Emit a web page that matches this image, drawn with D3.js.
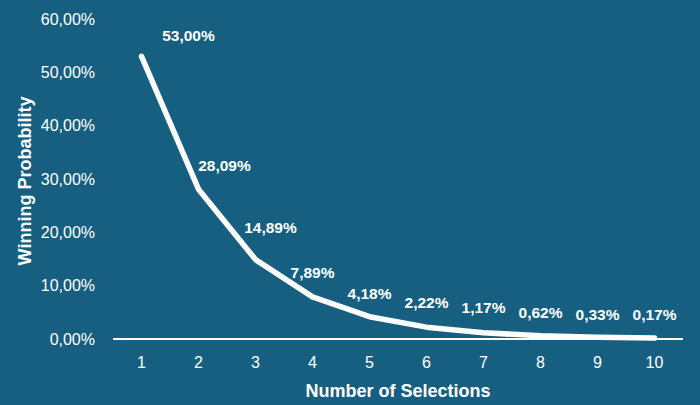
<!DOCTYPE html>
<html>
<head>
<meta charset="utf-8">
<script src="https://cdn.jsdelivr.net/npm/d3@7"></script>
<style>
  html, body { margin: 0; padding: 0; background: #175f80; }
  svg { display: block; font-family: "Liberation Sans", Arial, sans-serif; }
</style>
</head>
<body>
<div id="chart"></div>
<script>
  // données
  const selections = [1, 2, 3, 4, 5, 6, 7, 8, 9, 10];
  const probabilities = [53.00, 28.09, 14.89, 7.89, 4.18, 2.22, 1.17, 0.62, 0.33, 0.17];
  const yTicks = [0, 10, 20, 30, 40, 50, 60];

  const width = 700;
  const height = 405;
  const margin = { top: 19, right: 17, bottom: 66, left: 113 };

  const fmt = v => d3.format(".2f")(v).replace(".", ",") + "%";

  const svg = d3.select("#chart").append("svg")
    .attr("width", width)
    .attr("height", height);

  svg.append("rect")
    .attr("width", width)
    .attr("height", height)
    .attr("fill", "#175f80");

  const x = d3.scaleBand()
    .domain(selections)
    .range([margin.left, width - margin.right]);

  const y = d3.scaleLinear()
    .domain([0, 60])
    .range([height - margin.bottom, margin.top]);

  const cx = d => x(d) + x.bandwidth() / 2;

  // axe Y (labels seulement)
  svg.append("g")
    .attr("text-anchor", "end")
    .selectAll("text")
    .data(yTicks)
    .enter().append("text")
    .attr("x", 95)
    .attr("y", d => y(d))
    .attr("dy", "0.35em")
    .attr("fill", "#fff")
    .attr("font-size", 16)
    .text(d => fmt(d));

  // ligne de base
  svg.append("line")
    .attr("x1", margin.left)
    .attr("x2", width - margin.right)
    .attr("y1", y(0))
    .attr("y2", y(0))
    .attr("stroke", "#fff")
    .attr("stroke-width", 2);

  // axe X
  svg.append("g")
    .attr("text-anchor", "middle")
    .selectAll("text")
    .data(selections)
    .enter().append("text")
    .attr("x", d => cx(d))
    .attr("y", y(0) + 23)
    .attr("dy", "0.35em")
    .attr("fill", "#fff")
    .attr("font-size", 16)
    .text(d => d);

  // courbe
  const line = d3.line()
    .x((d, i) => cx(selections[i]))
    .y(d => y(d));

  svg.append("path")
    .datum(probabilities)
    .attr("d", line)
    .attr("fill", "none")
    .attr("stroke", "#fff")
    .attr("stroke-width", 5.5)
    .attr("stroke-linejoin", "round")
    .attr("stroke-linecap", "round");

  // étiquettes de données (décalages pour éviter la courbe)
  const labelDx = [47, 26, 15, 0, 0, 0, 0, 0, 0, 0];
  const labelDy = [-21, -24, -32, -24, -23, -25, -25, -23, -23, -24];

  svg.append("g")
    .attr("text-anchor", "middle")
    .selectAll("text")
    .data(probabilities)
    .enter().append("text")
    .attr("x", (d, i) => cx(selections[i]) + labelDx[i])
    .attr("y", (d, i) => y(d) + labelDy[i])
    .attr("dy", "0.35em")
    .attr("fill", "#fff")
    .attr("font-size", 15.5)
    .attr("font-weight", "bold")
    .text(d => fmt(d));

  // titres des axes
  svg.append("text")
    .attr("transform", `translate(25,${(margin.top + y(0)) / 2 + 2}) rotate(-90)`)
    .attr("text-anchor", "middle")
    .attr("dy", "0.35em")
    .attr("fill", "#fff")
    .attr("font-size", 18)
    .attr("font-weight", "bold")
    .text("Winning Probability");

  svg.append("text")
    .attr("x", 398)
    .attr("y", 391)
    .attr("text-anchor", "middle")
    .attr("dy", "0.35em")
    .attr("fill", "#fff")
    .attr("font-size", 18)
    .attr("font-weight", "bold")
    .text("Number of Selections");
</script>
</body>
</html>
